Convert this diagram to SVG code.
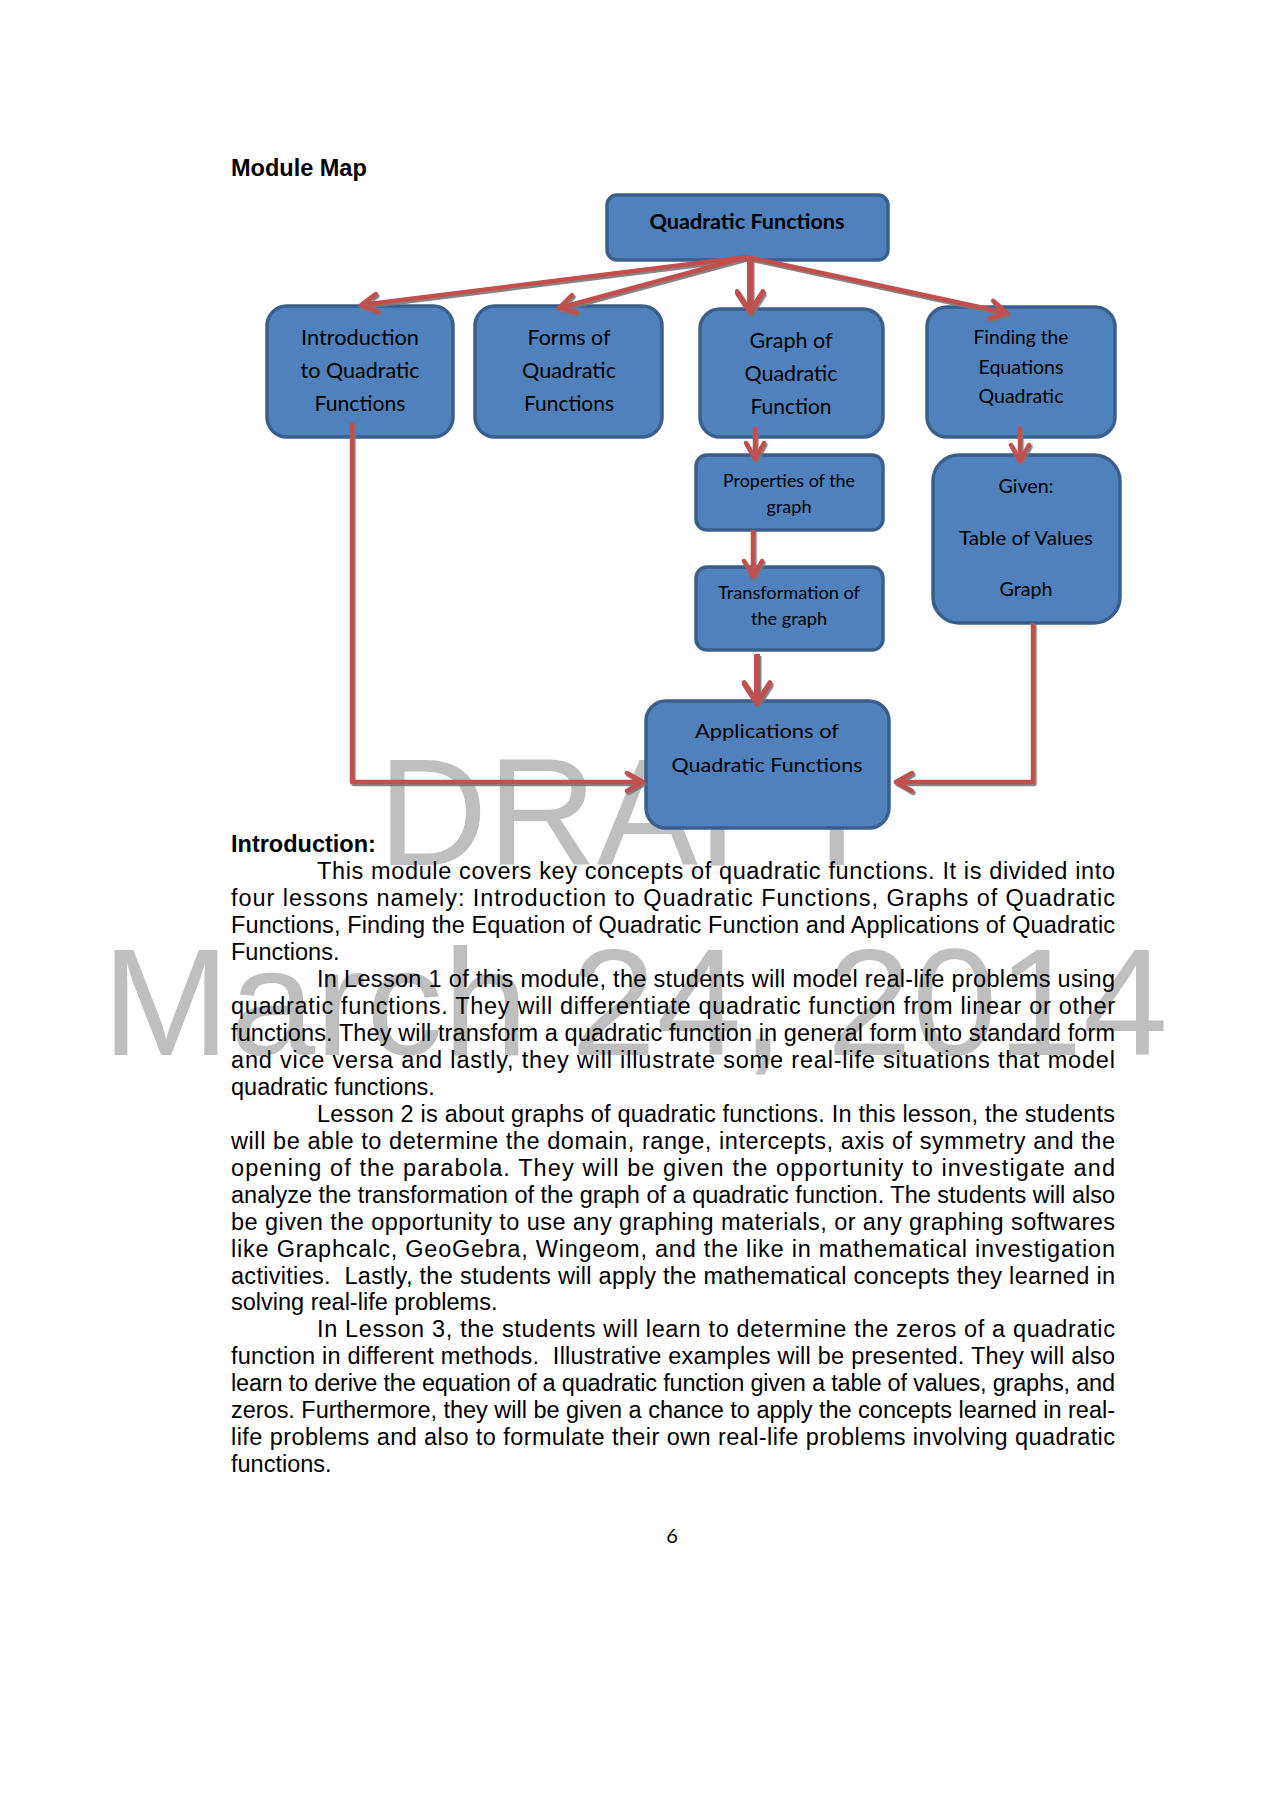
<svg xmlns="http://www.w3.org/2000/svg" width="1272" height="1800" viewBox="0 0 1272 1800">
<defs>
<style>
.wm{font-family:"Liberation Sans",Arial,sans-serif;font-size:153px;fill:#BFBFBF}
.box{fill:#4F81BD;stroke:#3A5F8C;stroke-width:3.5}
.lbl{font-family:Lato,"Open Sans",sans-serif;fill:#000;text-anchor:middle}
.body{font-family:"Liberation Sans",Arial,sans-serif;font-size:23.5px;fill:#000}
.hd{font-family:"Liberation Sans",Arial,sans-serif;font-size:23.5px;font-weight:bold;fill:#000}
.con{fill:none;stroke:#C0504D;stroke-width:4.5;stroke-linejoin:round}
.thick{stroke-width:6}
</style>
<marker id="ah" viewBox="0 0 24 24" refX="21" refY="12" markerWidth="24" markerHeight="24" markerUnits="userSpaceOnUse" orient="auto">
<path d="M5,3 L21,12 L5,21" fill="none" stroke="#C0504D" stroke-width="4.5" stroke-linecap="round" stroke-linejoin="round"/>
</marker>
<marker id="ahb" viewBox="0 0 30 30" refX="27" refY="15" markerWidth="30" markerHeight="30" markerUnits="userSpaceOnUse" orient="auto">
<path d="M7,2 L27,15 L7,28" fill="none" stroke="#C0504D" stroke-width="5.5" stroke-linecap="round" stroke-linejoin="round"/>
</marker>
<filter id="sh" x="-10%" y="-10%" width="120%" height="120%">
<feDropShadow dx="1.5" dy="2" stdDeviation="0.6" flood-color="#777" flood-opacity="0.9"/>
</filter>
</defs>
<rect width="1272" height="1800" fill="#fff"/>

<g id="watermark">
<text class="wm" x="378" y="865" textLength="505" lengthAdjust="spacingAndGlyphs">DRAFT</text>
<text class="wm" x="102" y="1055" textLength="1066" lengthAdjust="spacingAndGlyphs">March 24, 2014</text>
</g>

<text class="hd" x="231" y="176">Module Map</text>

<g id="node-quadratic-functions">
<rect class="box" x="607" y="195" width="281" height="65" rx="10"/>
<text class="lbl" x="747" y="229" font-size="21" font-weight="bold" textLength="195" lengthAdjust="spacingAndGlyphs">Quadratic Functions</text>
</g>
<g id="node-introduction">
<rect class="box" x="267" y="306" width="186" height="131" rx="20"/>
<text class="lbl" x="360" y="345" font-size="21" textLength="118" lengthAdjust="spacingAndGlyphs">Introduction</text>
<text class="lbl" x="360" y="378" font-size="21" textLength="119" lengthAdjust="spacingAndGlyphs">to Quadratic</text>
<text class="lbl" x="360" y="411" font-size="21" textLength="91" lengthAdjust="spacingAndGlyphs">Functions</text>
</g>
<g id="node-forms">
<rect class="box" x="475" y="306" width="187" height="131" rx="20"/>
<text class="lbl" x="569" y="345" font-size="21" textLength="83" lengthAdjust="spacingAndGlyphs">Forms of</text>
<text class="lbl" x="569" y="378" font-size="21" textLength="94" lengthAdjust="spacingAndGlyphs">Quadratic</text>
<text class="lbl" x="569" y="411" font-size="21" textLength="90" lengthAdjust="spacingAndGlyphs">Functions</text>
</g>
<g id="node-graph">
<rect class="box" x="700" y="309" width="183" height="128" rx="20"/>
<text class="lbl" x="791" y="348" font-size="21" textLength="83" lengthAdjust="spacingAndGlyphs">Graph of</text>
<text class="lbl" x="791" y="381" font-size="21" textLength="93" lengthAdjust="spacingAndGlyphs">Quadratic</text>
<text class="lbl" x="791" y="414" font-size="21" textLength="81" lengthAdjust="spacingAndGlyphs">Function</text>
</g>
<g id="node-finding">
<rect class="box" x="927" y="307" width="188" height="130" rx="20"/>
<text class="lbl" x="1021" y="344" font-size="19" textLength="95" lengthAdjust="spacingAndGlyphs">Finding the</text>
<text class="lbl" x="1021" y="374" font-size="19" textLength="85" lengthAdjust="spacingAndGlyphs">Equations</text>
<text class="lbl" x="1021" y="403" font-size="19" textLength="85" lengthAdjust="spacingAndGlyphs">Quadratic</text>
</g>
<g id="node-properties">
<rect class="box" x="696" y="455" width="187" height="75" rx="11"/>
<text class="lbl" x="789" y="487" font-size="17" textLength="132" lengthAdjust="spacingAndGlyphs">Properties of the</text>
<text class="lbl" x="789" y="513" font-size="17" textLength="45" lengthAdjust="spacingAndGlyphs">graph</text>
</g>
<g id="node-transformation">
<rect class="box" x="696" y="567" width="187" height="83" rx="11"/>
<text class="lbl" x="789" y="599" font-size="17" textLength="142" lengthAdjust="spacingAndGlyphs">Transformation of</text>
<text class="lbl" x="789" y="625" font-size="17" textLength="76" lengthAdjust="spacingAndGlyphs">the graph</text>
</g>
<g id="node-given">
<rect class="box" x="933" y="455" width="187" height="168" rx="26"/>
<text class="lbl" x="1026" y="493" font-size="19" textLength="55" lengthAdjust="spacingAndGlyphs">Given:</text>
<text class="lbl" x="1026" y="545" font-size="19" textLength="134" lengthAdjust="spacingAndGlyphs">Table of Values</text>
<text class="lbl" x="1026" y="596" font-size="19" textLength="53" lengthAdjust="spacingAndGlyphs">Graph</text>
</g>
<g id="node-applications">
<rect class="box" x="646" y="701" width="243" height="127" rx="20"/>
<text class="lbl" x="767" y="738" font-size="20" textLength="144" lengthAdjust="spacingAndGlyphs">Applications of</text>
<text class="lbl" x="767" y="772" font-size="20" textLength="191" lengthAdjust="spacingAndGlyphs">Quadratic Functions</text>
</g>

<g id="connectors" filter="url(#sh)">
<path class="con" d="M747,257 L361,305" marker-end="url(#ah)"/>
<path class="con" d="M747,257 L559,308" marker-end="url(#ah)"/>
<path class="con" d="M747,257 L1007,313" marker-end="url(#ah)"/>
<path class="con thick" d="M750,258 L750,312" marker-end="url(#ahb)"/>
<path class="con" d="M755,427 L755,459" marker-end="url(#ah)"/>
<path class="con" d="M1020,427 L1020,461" marker-end="url(#ah)"/>
<path class="con" d="M753,530 L753,577" marker-end="url(#ah)"/>
<path class="con thick" d="M757,654 L757,703" marker-end="url(#ahb)"/>
<path class="con" d="M352,423 L352,782 L643,782" marker-end="url(#ah)"/>
<path class="con" d="M1033,623 L1033,782 L896,782" marker-end="url(#ah)"/>
</g>

<g id="body-text">
<text class="hd" x="231" y="852">Introduction:</text>
<text class="body" x="317" y="879" textLength="798" lengthAdjust="spacing">This module covers key concepts of quadratic functions. It is divided into</text>
<text class="body" x="231" y="906" textLength="884" lengthAdjust="spacing">four lessons namely: Introduction to Quadratic Functions, Graphs of Quadratic</text>
<text class="body" x="231" y="933" textLength="884" lengthAdjust="spacing">Functions, Finding the Equation of Quadratic Function and Applications of Quadratic</text>
<text class="body" x="231" y="960">Functions.</text>
<text class="body" x="317" y="987" textLength="798" lengthAdjust="spacing">In Lesson 1 of this module, the students will model real-life problems using</text>
<text class="body" x="231" y="1014" textLength="884" lengthAdjust="spacing">quadratic functions. They will differentiate quadratic function from linear or other</text>
<text class="body" x="231" y="1041" textLength="884" lengthAdjust="spacing">functions. They will transform a quadratic function in general form into standard form</text>
<text class="body" x="231" y="1068" textLength="884" lengthAdjust="spacing">and vice versa and lastly, they will illustrate some real-life situations that model</text>
<text class="body" x="231" y="1095">quadratic functions.</text>
<text class="body" x="317" y="1122" textLength="798" lengthAdjust="spacing">Lesson 2 is about graphs of quadratic functions. In this lesson, the students</text>
<text class="body" x="231" y="1148.5" textLength="884" lengthAdjust="spacing">will be able to determine the domain, range, intercepts, axis of symmetry and the</text>
<text class="body" x="231" y="1175.5" textLength="884" lengthAdjust="spacing">opening of the parabola. They will be given the opportunity to investigate and</text>
<text class="body" x="231" y="1202.5" textLength="884" lengthAdjust="spacing">analyze the transformation of the graph of a quadratic function. The students will also</text>
<text class="body" x="231" y="1229.5" textLength="884" lengthAdjust="spacing">be given the opportunity to use any graphing materials, or any graphing softwares</text>
<text class="body" x="231" y="1256.5" textLength="884" lengthAdjust="spacing">like Graphcalc, GeoGebra, Wingeom, and the like in mathematical investigation</text>
<text class="body" x="231" y="1283.5" textLength="884" lengthAdjust="spacing" xml:space="preserve">activities.  Lastly, the students will apply the mathematical concepts they learned in</text>
<text class="body" x="231" y="1310">solving real-life problems.</text>
<text class="body" x="317" y="1337" textLength="798" lengthAdjust="spacing">In Lesson 3, the students will learn to determine the zeros of a quadratic</text>
<text class="body" x="231" y="1364" textLength="884" lengthAdjust="spacing" xml:space="preserve">function in different methods.  Illustrative examples will be presented. They will also</text>
<text class="body" x="231" y="1391" textLength="884" lengthAdjust="spacing">learn to derive the equation of a quadratic function given a table of values, graphs, and</text>
<text class="body" x="231" y="1418" textLength="884" lengthAdjust="spacing">zeros. Furthermore, they will be given a chance to apply the concepts learned in real-</text>
<text class="body" x="231" y="1445" textLength="884" lengthAdjust="spacing">life problems and also to formulate their own real-life problems involving quadratic</text>
<text class="body" x="231" y="1472">functions.</text>
<text x="672" y="1543" font-family="Lato,'Open Sans',sans-serif" font-size="20" text-anchor="middle" fill="#000">6</text>
</g>
</svg>
